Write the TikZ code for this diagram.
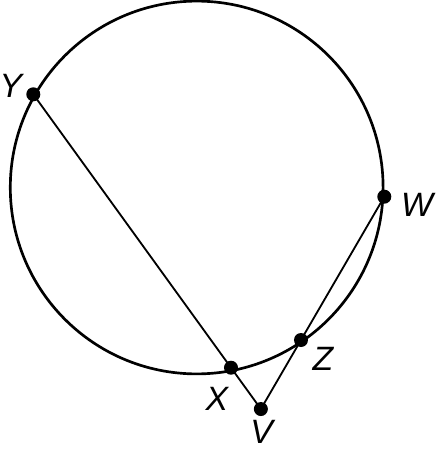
\documentclass[tikz,border=0pt]{standalone}
\usepackage{fontspec}
\setmainfont{Liberation Sans}
\usetikzlibrary{positioning}

\begin{document}
\begin{tikzpicture}[lbl/.style={inner sep=0pt,font=\fontsize{24}{28}\selectfont\itshape}]
\useasboundingbox (-4.9175,-6.5625) rectangle (6.0075,4.6875);
\draw[line width=1.9pt] (0,0) circle (4.66);
\coordinate (Y) at (-4.085,2.33);
\coordinate (W) at (4.69,-0.23);
\coordinate (Z) at (2.6075,-3.8125);
\coordinate (X) at (0.8575,-4.505);
\coordinate (V) at (intersection of Y--X and W--Z);
\draw[line width=1.3pt] (Y) -- (V) -- (W);
\foreach \p in {Y,W,Z,X,V} \fill (\p) circle (0.175);
\node[lbl] (lY) at ([shift={(-0.56,0.21)}]Y) {Y};
\node[lbl] (lW) at ([shift={(0.82,-0.21)}]W) {W};
\node[lbl] (lZ) at ([shift={(0.55,-0.47)}]Z) {Z};
\node[lbl] (lX) at ([shift={(-0.35,-0.78)}]X) {X};
\node[lbl] (lV) at ([shift={(0.02,-0.58)}]V) {V};
\end{tikzpicture}
\end{document}
